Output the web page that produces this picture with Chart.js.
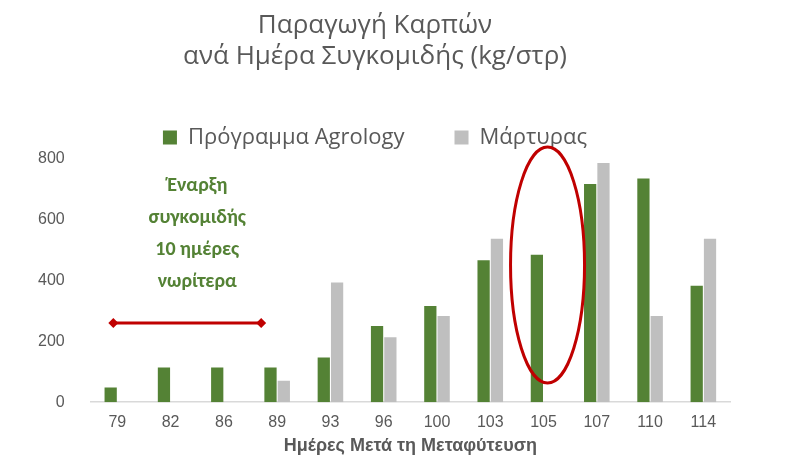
<!DOCTYPE html>
<html lang="el">
<head>
<meta charset="UTF-8">
<style>body{margin:0;background:#fff}</style>
</head>
<body>
<canvas id="myChart" width="790" height="457"></canvas>
<script src="https://cdn.jsdelivr.net/npm/chart.js"></script>
<script>
const days = ['79', '82', '86', '89', '93', '96', '100', '103', '105', '107', '110', '114'];
const agrology = [48, 114, 114, 114, 147, 250, 316, 466, 484, 716, 734, 382];
const control = [0, 0, 0, 70, 393, 213, 283, 536, 0, 785, 283, 536];
const noteLines = ['Έναρξη', 'συγκομιδής', '10 ημέρες', 'νωρίτερα'];

// red marks: early-harvest arrow and ellipse around day 105
const notes = {
  id: 'notes',
  afterDatasetsDraw(chart) {
    const c = chart.ctx, x = chart.scales.x, y = chart.scales.y;
    c.save();
    const yl = y.getPixelForValue(260);
    const x1 = x.getPixelForValue(0) - 4, x2 = x.getPixelForValue(3) - 16;
    c.strokeStyle = '#C00000'; c.fillStyle = '#C00000'; c.lineWidth = 3;
    c.beginPath(); c.moveTo(x1, yl); c.lineTo(x2, yl); c.stroke();
    [x1, x2].forEach(px => {
      c.beginPath(); c.moveTo(px - 5, yl); c.lineTo(px, yl - 5); c.lineTo(px + 5, yl); c.lineTo(px, yl + 5); c.closePath(); c.fill();
    });
    c.fillStyle = '#548235'; c.font = 'bold 20px Calibri, Carlito, "Open Sans", sans-serif';
    c.textAlign = 'center'; c.textBaseline = 'middle';
    const tx = (x.getPixelForValue(1) + x.getPixelForValue(2)) / 2;
    noteLines.forEach((t, i) => c.fillText(t, tx, y.getPixelForValue(710) + i * 32));
    c.beginPath();
    c.ellipse(x.getPixelForValue(8) + 4, y.getPixelForValue(450), 37, 118, 0, 0, Math.PI * 2);
    c.strokeStyle = '#C00000'; c.lineWidth = 3; c.stroke();
    c.restore();
  }
};

new Chart(document.getElementById('myChart'), {
  type: 'bar',
  data: {
    labels: days,
    datasets: [
      { label: 'Πρόγραμμα Agrology', data: agrology, backgroundColor: '#548235' },
      { label: 'Μάρτυρας', data: control, backgroundColor: '#BFBFBF' }
    ]
  },
  options: {
    responsive: false, animation: false,
    devicePixelRatio: 1,
    layout: { padding: { left: 20, right: 60, top: 10 } },
    datasets: { bar: { categoryPercentage: 0.5, barPercentage: 0.92 } },
    plugins: {
      title: {
        display: true, text: ['Παραγωγή Καρπών', 'ανά Ημέρα Συγκομιδής (kg/στρ)'],
        color: '#595959', font: { size: 26, weight: 'normal', family: '"Open Sans", sans-serif' }, padding: { bottom: 4 }
      },
      legend: {
        labels: { color: '#595959', font: { size: 22, family: '"Open Sans", sans-serif' }, boxWidth: 14, boxHeight: 14, padding: 50 }
      },
      tooltip: { enabled: false }
    },
    scales: {
      x: {
        grid: { display: false }, border: { color: '#D9D9D9', width: 1.5 },
        ticks: { color: '#595959', font: { size: 16 } },
        title: { display: true, text: 'Ημέρες Μετά τη Μεταφύτευση', color: '#595959', font: { size: 18, weight: 'bold' }, padding: 0 }
      },
      y: {
        min: 0, max: 800, grid: { display: false }, border: { display: false },
        ticks: { stepSize: 200, color: '#595959', font: { size: 16 }, padding: 18 }
      }
    }
  },
  plugins: [notes]
});
</script>
</body>
</html>
